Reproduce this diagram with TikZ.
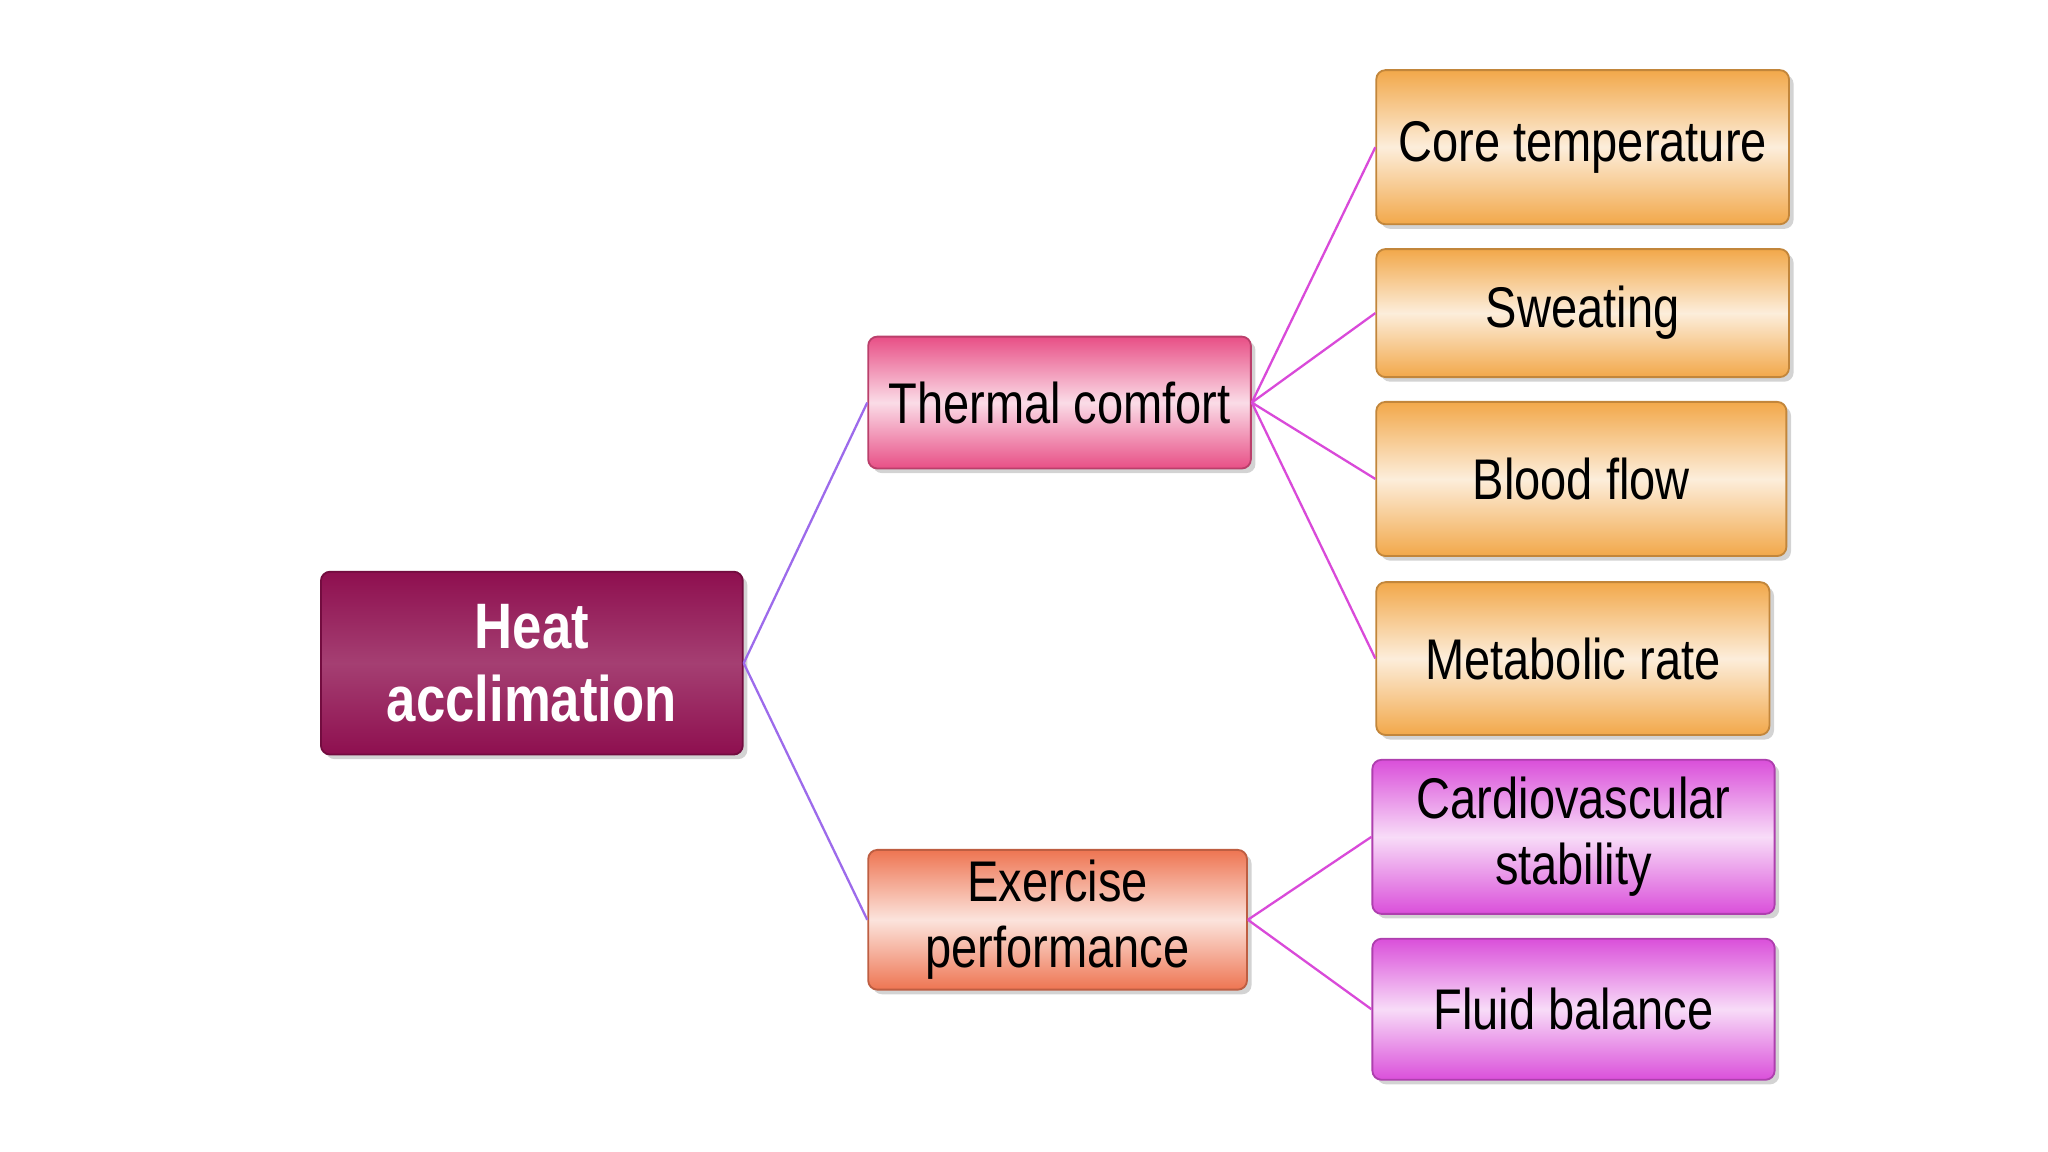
\documentclass[tikz,border=0pt]{standalone}
\usepackage{fontspec}
\setmainfont[FakeStretch=0.82]{Liberation Sans}
\usetikzlibrary{shadows}
\definecolor{heatc}{HTML}{8E0F4F}
\definecolor{pinkc}{HTML}{E84F86}
\definecolor{salc}{HTML}{EE7552}
\definecolor{orc}{HTML}{F2A84A}
\definecolor{magc}{HTML}{DA4FDA}
\definecolor{lnA}{HTML}{9D6BEB}
\definecolor{lnB}{HTML}{D94AD9}
\tikzset{
 x=0.02cm,y=-0.02cm,
 bx/.style={draw=#1!80!black,line width=0.8pt,rounded corners=4pt,top color=#1,bottom color=#1,middle color=white!80!#1,
   drop shadow={opacity=0.35,shadow xshift=2pt,shadow yshift=-2pt},align=center,
   font=\fontsize{25}{29}\selectfont,anchor=north west,inner sep=0pt},
 lnp/.style={lnA,line width=1pt},
 lnm/.style={lnB,line width=1pt}
}
\begin{document}
\begin{tikzpicture}
\useasboundingbox (0,0) rectangle (1568,882);
\node[bx=heatc,middle color=heatc!80!white,text=white,font=\bfseries\fontsize{28}{32}\selectfont,minimum width=323*0.02cm,minimum height=140*0.02cm] (heat) at (245,437) {Heat\\acclimation};
\node[bx=pinkc,minimum width=293*0.02cm,minimum height=101*0.02cm] (tc) at (664,257) {Thermal comfort};
\node[bx=salc,minimum width=290*0.02cm,minimum height=107*0.02cm] (ep) at (664,650) {Exercise\\performance};
\node[bx=orc,minimum width=316*0.02cm,minimum height=118*0.02cm] (ct) at (1053,53) {Core temperature};
\node[bx=orc,minimum width=316*0.02cm,minimum height=98*0.02cm] (sw) at (1053,190) {Sweating};
\node[bx=orc,minimum width=314*0.02cm,minimum height=118*0.02cm] (bf) at (1053,307) {Blood flow};
\node[bx=orc,minimum width=301*0.02cm,minimum height=117*0.02cm] (mr) at (1053,445) {Metabolic rate};
\node[bx=magc,minimum width=308*0.02cm,minimum height=118*0.02cm] (cs) at (1050,581) {Cardiovascular\\stability};
\node[bx=magc,minimum width=308*0.02cm,minimum height=108*0.02cm] (fb) at (1050,718) {Fluid balance};
\draw[lnp] (heat.east) -- (tc.west);
\draw[lnp] (heat.east) -- (ep.west);
\foreach \t in {ct,sw,bf,mr} \draw[lnm] (tc.east) -- (\t.west);
\foreach \t in {cs,fb} \draw[lnm] (ep.east) -- (\t.west);
\end{tikzpicture}
\end{document}
